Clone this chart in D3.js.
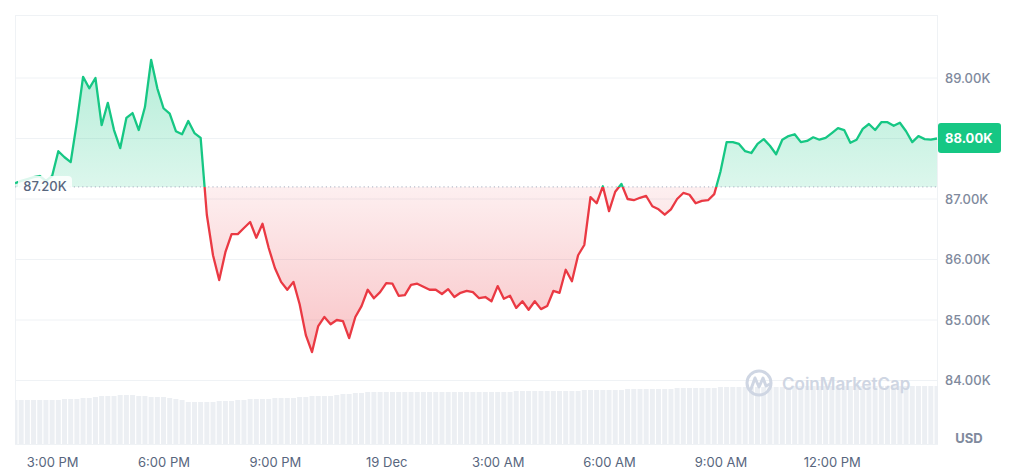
<!DOCTYPE html>
<html><head><meta charset="utf-8">
<script src="https://cdn.jsdelivr.net/npm/d3@7"></script>
<style>
body{margin:0;background:#fff;}
svg{display:block;font-family:Inter,"Noto Sans",sans-serif;}
</style>
</head><body>
<svg id="chart" width="1009" height="470"></svg>
<script>
// ---- data (10-minute samples, 18 Dec 14:00 -> 19 Dec 14:50) ----
const startTime = new Date(2025, 11, 18, 14, 0);
const stepMinutes = 10;
const prices = [
87260,87300,87330,87360,87380,87300,87380,87790,87690,87610,
88270,89020,88830,89000,88220,88590,88140,87840,88340,88420,
88140,88520,89300,88830,88500,88410,88120,88070,88290,88090,
88010,86740,86070,85660,86120,86420,86420,86520,86620,86360,
86590,86190,85860,85630,85500,85630,85260,84750,84470,84900,
85050,84930,85000,84980,84700,85050,85230,85500,85360,85460,
85610,85600,85400,85410,85580,85600,85550,85500,85500,85430,
85510,85380,85450,85480,85460,85360,85380,85310,85560,85350,
85400,85200,85310,85170,85310,85180,85230,85480,85450,85830,
85640,86070,86240,87030,86930,87210,86800,87120,87250,87000,
86980,87020,87050,86880,86830,86740,86830,87000,87100,87070,
86930,86970,86980,87080,87450,87940,87940,87910,87790,87760,
87910,87990,87880,87740,87980,88040,88070,87940,87960,88020,
87980,88010,88090,88170,88140,87930,87980,88160,88240,88140,
88270,88270,88210,88260,88120,87940,88040,87990,87980,88000
];
const volumes = [
44,44,44,44,44,44,44,44,45,
45,45,46,46,47,
48,48,48,49,49,
49,48,48,47,47,47,
46,45,44,
42,42,42,42,42,43,
43,43,44,
44,45,45,45,45,46,46,
46,46,47,
47,48,48,48,48,49,
50,50,51,
51,52,52,52,52,52,52,52,52,52,52,52,52,52,52,52,52,52,52,52,52,52,52,
52,52,53,53,53,53,53,53,53,53,53,53,53,54,54,54,54,
54,54,54,55,55,55,55,55,55,55,55,56,56,56,56,56,
56,56,57,57,57,57,57,57,57,57,57,57,57,57,58,58,
58,58,58,58,58,58,58,58,58,58,58,58,58,58,58,58,58,58,58,58,58,58
];
const priceTicks = [84000, 85000, 86000, 87000, 88000, 89000];
const timeTicks = [
  new Date(2025,11,18,15), new Date(2025,11,18,18), new Date(2025,11,18,21),
  new Date(2025,11,19,0), new Date(2025,11,19,3), new Date(2025,11,19,6),
  new Date(2025,11,19,9), new Date(2025,11,19,12)
];
const baseValue = 87200;
const currency = "USD";
const watermark = "CoinMarketCap";

const times = prices.map((_, i) => new Date(startTime.getTime() + i * stepMinutes * 60000));
const data = prices.map((p, i) => ({t: times[i], p, v: volumes[i]}));

// ---- layout ----
const L = 15, R = 938, T = 15, B = 444;
const svg = d3.select("#chart");
const x = d3.scaleTime().domain([times[0], times[times.length-1]]).range([15, 937]);
const y = d3.scaleLinear().domain([84000, 89000]).range([380.5, 78]);
const yv = d3.scaleLinear().domain([0, 60]).range([B, B - 60]);
const green = "#16C784", red = "#EA3943";
const baseY = y(baseValue);
const last = prices[prices.length-1];

const defs = svg.append("defs");
const gG = defs.append("linearGradient").attr("id","gG").attr("gradientUnits","userSpaceOnUse")
  .attr("x1",0).attr("x2",0).attr("y1",y(89300)).attr("y2",baseY);
gG.append("stop").attr("offset",0).attr("stop-color",green).attr("stop-opacity",0.32);
gG.append("stop").attr("offset",1).attr("stop-color",green).attr("stop-opacity",0.15);
const gR = defs.append("linearGradient").attr("id","gR").attr("gradientUnits","userSpaceOnUse")
  .attr("x1",0).attr("x2",0).attr("y1",baseY).attr("y2",y(84470));
gR.append("stop").attr("offset",0).attr("stop-color",red).attr("stop-opacity",0.08);
gR.append("stop").attr("offset",1).attr("stop-color",red).attr("stop-opacity",0.3);
defs.append("clipPath").attr("id","cAbove").append("rect")
  .attr("x",L).attr("y",0).attr("width",R-L).attr("height",baseY);
defs.append("clipPath").attr("id","cBelow").append("rect")
  .attr("x",L).attr("y",baseY).attr("width",R-L).attr("height",B-baseY);
defs.append("clipPath").attr("id","cPlot").append("rect")
  .attr("x",L).attr("y",T).attr("width",R-L).attr("height",B-T);

// grid
svg.append("g").selectAll("line").data(priceTicks).join("line")
  .attr("x1",L).attr("x2",R).attr("y1",d=>y(d)).attr("y2",d=>y(d))
  .attr("stroke","#EFF2F5").attr("stroke-width",1);
svg.append("rect").attr("x",L+0.5).attr("y",T+0.5).attr("width",R-L-1).attr("height",B-T)
  .attr("fill","none").attr("stroke","#EFF2F5");

// volume bars
svg.append("g").attr("clip-path","url(#cPlot)").selectAll("rect").data(data).join("rect")
  .attr("x",d=>x(d.t)-2.5).attr("width",5)
  .attr("y",d=>yv(d.v)).attr("height",d=>B-yv(d.v))
  .attr("fill","#ECEFF3");

// watermark
const wm = svg.append("g");
wm.append("circle").attr("cx",759).attr("cy",383).attr("r",12)
  .attr("fill","none").attr("stroke","#CFD6E3").attr("stroke-width",3);
wm.append("path").attr("d","M751,389 L755,378 L759,387 L763,378 L766,386 L770,384")
  .attr("fill","none").attr("stroke","#CFD6E3").attr("stroke-width",3)
  .attr("stroke-linejoin","round").attr("stroke-linecap","round");
wm.append("text").attr("x",782).attr("y",390).text(watermark)
  .attr("font-size",17).attr("font-weight",600).attr("fill","#CFD6E3");

// areas
const area = d3.area().x(d=>x(d.t)).y0(baseY).y1(d=>y(d.p));
const line = d3.line().x(d=>x(d.t)).y(d=>y(d.p));
svg.append("path").datum(data).attr("d",area).attr("fill","url(#gG)").attr("clip-path","url(#cAbove)");
svg.append("path").datum(data).attr("d",area).attr("fill","url(#gR)").attr("clip-path","url(#cBelow)");

// baseline
svg.append("line").attr("x1",L).attr("x2",R).attr("y1",baseY).attr("y2",baseY)
  .attr("stroke","#A7AEBF").attr("stroke-width",1).attr("stroke-dasharray","1.2 3");

// lines
svg.append("path").datum(data).attr("d",line).attr("fill","none").attr("stroke",green)
  .attr("stroke-width",2.3).attr("stroke-linejoin","round").attr("clip-path","url(#cAbove)");
svg.append("path").datum(data).attr("d",line).attr("fill","none").attr("stroke",red)
  .attr("stroke-width",2.3).attr("stroke-linejoin","round").attr("clip-path","url(#cBelow)");

// axes
const yAxis = d3.axisRight(y).tickValues(priceTicks.filter(v => Math.abs(y(v) - y(last)) > 18))
  .tickSize(0).tickPadding(7).tickFormat(d => (d/1000).toFixed(2) + "K");
const gy = svg.append("g").attr("transform",`translate(${R},0)`).call(yAxis);
gy.select(".domain").remove();
gy.selectAll("text").attr("font-family","Inter").attr("font-size",13).attr("font-weight",500).attr("fill","#808A9D");

const fmt = d => (d.getHours()===0 ? d3.timeFormat("%-d %b")(d) : d3.timeFormat("%-I:%M %p")(d));
const xAxis = d3.axisBottom(x).tickValues(timeTicks).tickSize(0).tickPadding(14).tickFormat(fmt);
const gx = svg.append("g").attr("transform",`translate(0,${B})`).call(xAxis);
gx.select(".domain").remove();
gx.selectAll("text").attr("font-family","Inter").attr("font-size",13).attr("font-weight",400).attr("fill","#58667E");

svg.append("text").attr("x",969).attr("y",443).attr("text-anchor","middle")
  .attr("font-size",13).attr("font-weight",700).attr("fill","#808A9D").text(currency);

// base label
svg.append("rect").attr("x",18).attr("y",baseY-11).attr("width",54).attr("height",21).attr("rx",4)
  .attr("fill","#fff").attr("fill-opacity",0.85);
svg.append("text").attr("x",45).attr("y",baseY).attr("dy","0.35em").attr("text-anchor","middle")
  .attr("font-size",13).attr("font-weight",500).attr("fill","#58667E")
  .text((baseValue/1000).toFixed(2)+"K");

// last price label
svg.append("rect").attr("x",R).attr("y",y(last)-15.5).attr("width",63).attr("height",30).attr("rx",3)
  .attr("fill",green);
svg.append("text").attr("x",R+7).attr("y",y(last)).attr("dy","0.35em")
  .attr("font-size",13).attr("font-weight",700).attr("fill","#fff")
  .text((last/1000).toFixed(2)+"K");
</script>
</body></html>
